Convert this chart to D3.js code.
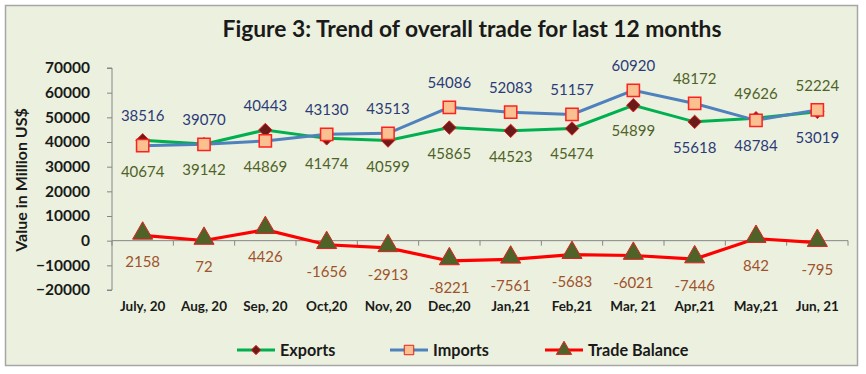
<!DOCTYPE html>
<html>
<head>
<meta charset="utf-8">
<script src="https://cdn.jsdelivr.net/npm/d3@7"></script>
<style>
  body { margin: 0; background: #fff; }
  svg text { font-family: Lato, "Open Sans", sans-serif; }
</style>
</head>
<body>
<div id="chart"></div>
<script>
// chart data
const months = ['July, 20', 'Aug, 20', 'Sep, 20', 'Oct,20', 'Nov, 20', 'Dec,20',
  'Jan,21', 'Feb,21', 'Mar, 21', 'Apr,21', 'May,21', 'Jun, 21'];
const exportsVals = [40674, 39142, 44869, 41474, 40599, 45865, 44523, 45474, 54899, 48172, 49626, 52224];
const importsVals = [38516, 39070, 40443, 43130, 43513, 54086, 52083, 51157, 60920, 55618, 48784, 53019];
const balanceVals = [2158, 72, 4426, -1656, -2913, -8221, -7561, -5683, -6021, -7446, 842, -795];
const yTicks = [-20000, -10000, 0, 10000, 20000, 30000, 40000, 50000, 60000, 70000];
// which series has its label on top, per month (as in the source)
const topLabel = ['imp', 'imp', 'imp', 'imp', 'imp', 'imp', 'imp', 'imp', 'imp', 'exp', 'exp', 'exp'];

const width = 866, height = 374;

const svg = d3.select('#chart').append('svg')
  .attr('width', width)
  .attr('height', height);

// chart frame
svg.append('rect')
  .attr('x', 5.5).attr('y', 5.5)
  .attr('width', 852).attr('height', 360)
  .attr('fill', '#EBF1DE')
  .attr('stroke', '#A6A6A6')
  .attr('stroke-width', 1.5);

svg.append('text')
  .attr('x', 472).attr('y', 37)
  .attr('text-anchor', 'middle')
  .attr('font-size', 22.8)
  .attr('font-weight', 'bold')
  .attr('fill', '#1a1a1a')
  .text('Figure 3: Trend of overall trade for last 12 months');

const x = d3.scaleBand().domain(months).range([112, 848]);
const y = d3.scaleLinear().domain([-20000, 70000]).range([290, 68]);
const cx = d => x(d) + x.bandwidth() / 2;

// y axis
const yAxis = svg.append('g')
  .attr('transform', 'translate(112,0)')
  .call(d3.axisLeft(y).tickValues(yTicks).tickSize(5).tickPadding(17).tickFormat(d3.format('d')));
yAxis.select('.domain').attr('stroke', '#868686').attr('d', `M-5,${y(-20000)}H0V${y(70000)}H-5`);
yAxis.selectAll('.tick line').attr('stroke', '#868686');
yAxis.selectAll('.tick text')
  .attr('font-size', 15.5)
  .attr('font-weight', 'bold')
  .attr('fill', '#1a1a1a')
  .attr('font-family', 'Lato, sans-serif');

// x axis at zero
const xAxis = svg.append('g')
  .attr('transform', `translate(0,${y(0)})`)
  .call(d3.axisBottom(x).tickSize(0).tickFormat(''));
xAxis.select('.domain').attr('stroke', '#868686').attr('d', `M112,0H848`);
svg.append('g')
  .selectAll('line')
  .data(d3.range(months.length + 1))
  .enter().append('line')
  .attr('x1', i => 112 + i * x.step())
  .attr('x2', i => 112 + i * x.step())
  .attr('y1', y(0))
  .attr('y2', y(0) + 5)
  .attr('stroke', '#868686');

svg.append('g')
  .selectAll('text')
  .data(months)
  .enter().append('text')
  .attr('x', d => cx(d))
  .attr('y', 311)
  .attr('text-anchor', 'middle')
  .attr('font-size', 13.5)
  .attr('font-weight', 'bold')
  .attr('fill', '#1a1a1a')
  .text(d => d);

svg.append('text')
  .attr('transform', `translate(27,180) rotate(-90)`)
  .attr('text-anchor', 'middle')
  .attr('font-size', 16)
  .attr('font-weight', 'bold')
  .attr('fill', '#1a1a1a')
  .text('Value in Million US$');

// lines
const line = vals => d3.line()
  .x((d, i) => cx(months[i]))
  .y(d => y(d))(vals);

svg.append('path').attr('d', line(exportsVals))
  .attr('fill', 'none').attr('stroke', '#00B050').attr('stroke-width', 3);
svg.append('path').attr('d', line(importsVals))
  .attr('fill', 'none').attr('stroke', '#4F81BD').attr('stroke-width', 3);
svg.append('path').attr('d', line(balanceVals))
  .attr('fill', 'none').attr('stroke', '#FF0000').attr('stroke-width', 3.2);

// markers
const diamond = d3.symbol().type(d3.symbolDiamond2).size(115);
const square = d3.symbol().type(d3.symbolSquare).size(150);
const triangle = d3.symbol().type(d3.symbolTriangle).size(175);

svg.append('g').selectAll('path')
  .data(exportsVals).enter().append('path')
  .attr('d', diamond)
  .attr('transform', (d, i) => `translate(${cx(months[i])},${y(d)})`)
  .attr('fill', '#6B1A1A').attr('stroke', '#E02020').attr('stroke-width', 1);

svg.append('g').selectAll('path')
  .data(importsVals).enter().append('path')
  .attr('d', square)
  .attr('transform', (d, i) => `translate(${cx(months[i])},${y(d)})`)
  .attr('fill', '#FAC090').attr('stroke', '#FF2020').attr('stroke-width', 1.5);

svg.append('g').selectAll('path')
  .data(balanceVals).enter().append('path')
  .attr('d', triangle)
  .attr('transform', (d, i) => `translate(${cx(months[i])},${y(d) - 2})`)
  .attr('fill', '#4F6228').attr('stroke', '#E02020').attr('stroke-width', 1);

// data labels
const impColor = '#2B3A78', expColor = '#4F6228', balColor = '#A0522D';
const labels = svg.append('g').attr('font-size', 15).attr('text-anchor', 'middle');

months.forEach((m, i) => {
  const e = exportsVals[i], im = importsVals[i];
  const yTop = Math.min(y(e), y(im)) - 19;
  const yBot = Math.max(y(e), y(im)) + 31;
  const impOnTop = topLabel[i] === 'imp';
  labels.append('text')
    .attr('x', cx(m)).attr('y', impOnTop ? yTop : yBot)
    .attr('fill', impColor).text(im);
  labels.append('text')
    .attr('x', cx(m)).attr('y', impOnTop ? yBot : yTop)
    .attr('fill', expColor).text(e);
  labels.append('text')
    .attr('x', cx(m)).attr('y', y(balanceVals[i]) + 32)
    .attr('fill', balColor).text(balanceVals[i]);
});

// legend
const legend = [
  { name: 'Exports', color: '#00B050', x: 237, sym: diamond, fill: '#6B1A1A', size: 55 },
  { name: 'Imports', color: '#4F81BD', x: 390, sym: square, fill: '#FAC090', size: 90 },
  { name: 'Trade Balance', color: '#FF0000', x: 545, sym: triangle, fill: '#4F6228', size: 100 }
];
const lg = svg.append('g');
legend.forEach(l => {
  lg.append('line')
    .attr('x1', l.x).attr('x2', l.x + 38)
    .attr('y1', 350).attr('y2', 350)
    .attr('stroke', l.color).attr('stroke-width', 3);
  lg.append('path')
    .attr('d', d3.symbol().type(l.sym.type()).size(l.size))
    .attr('transform', `translate(${l.x + 19},${350})`)
    .attr('fill', l.fill).attr('stroke', '#E02020').attr('stroke-width', 1);
  lg.append('text')
    .attr('x', l.x + 43).attr('y', 355.5)
    .attr('font-size', 16.2).attr('font-weight', 'bold')
    .attr('fill', '#1a1a1a')
    .text(l.name);
});
</script>
</body>
</html>
